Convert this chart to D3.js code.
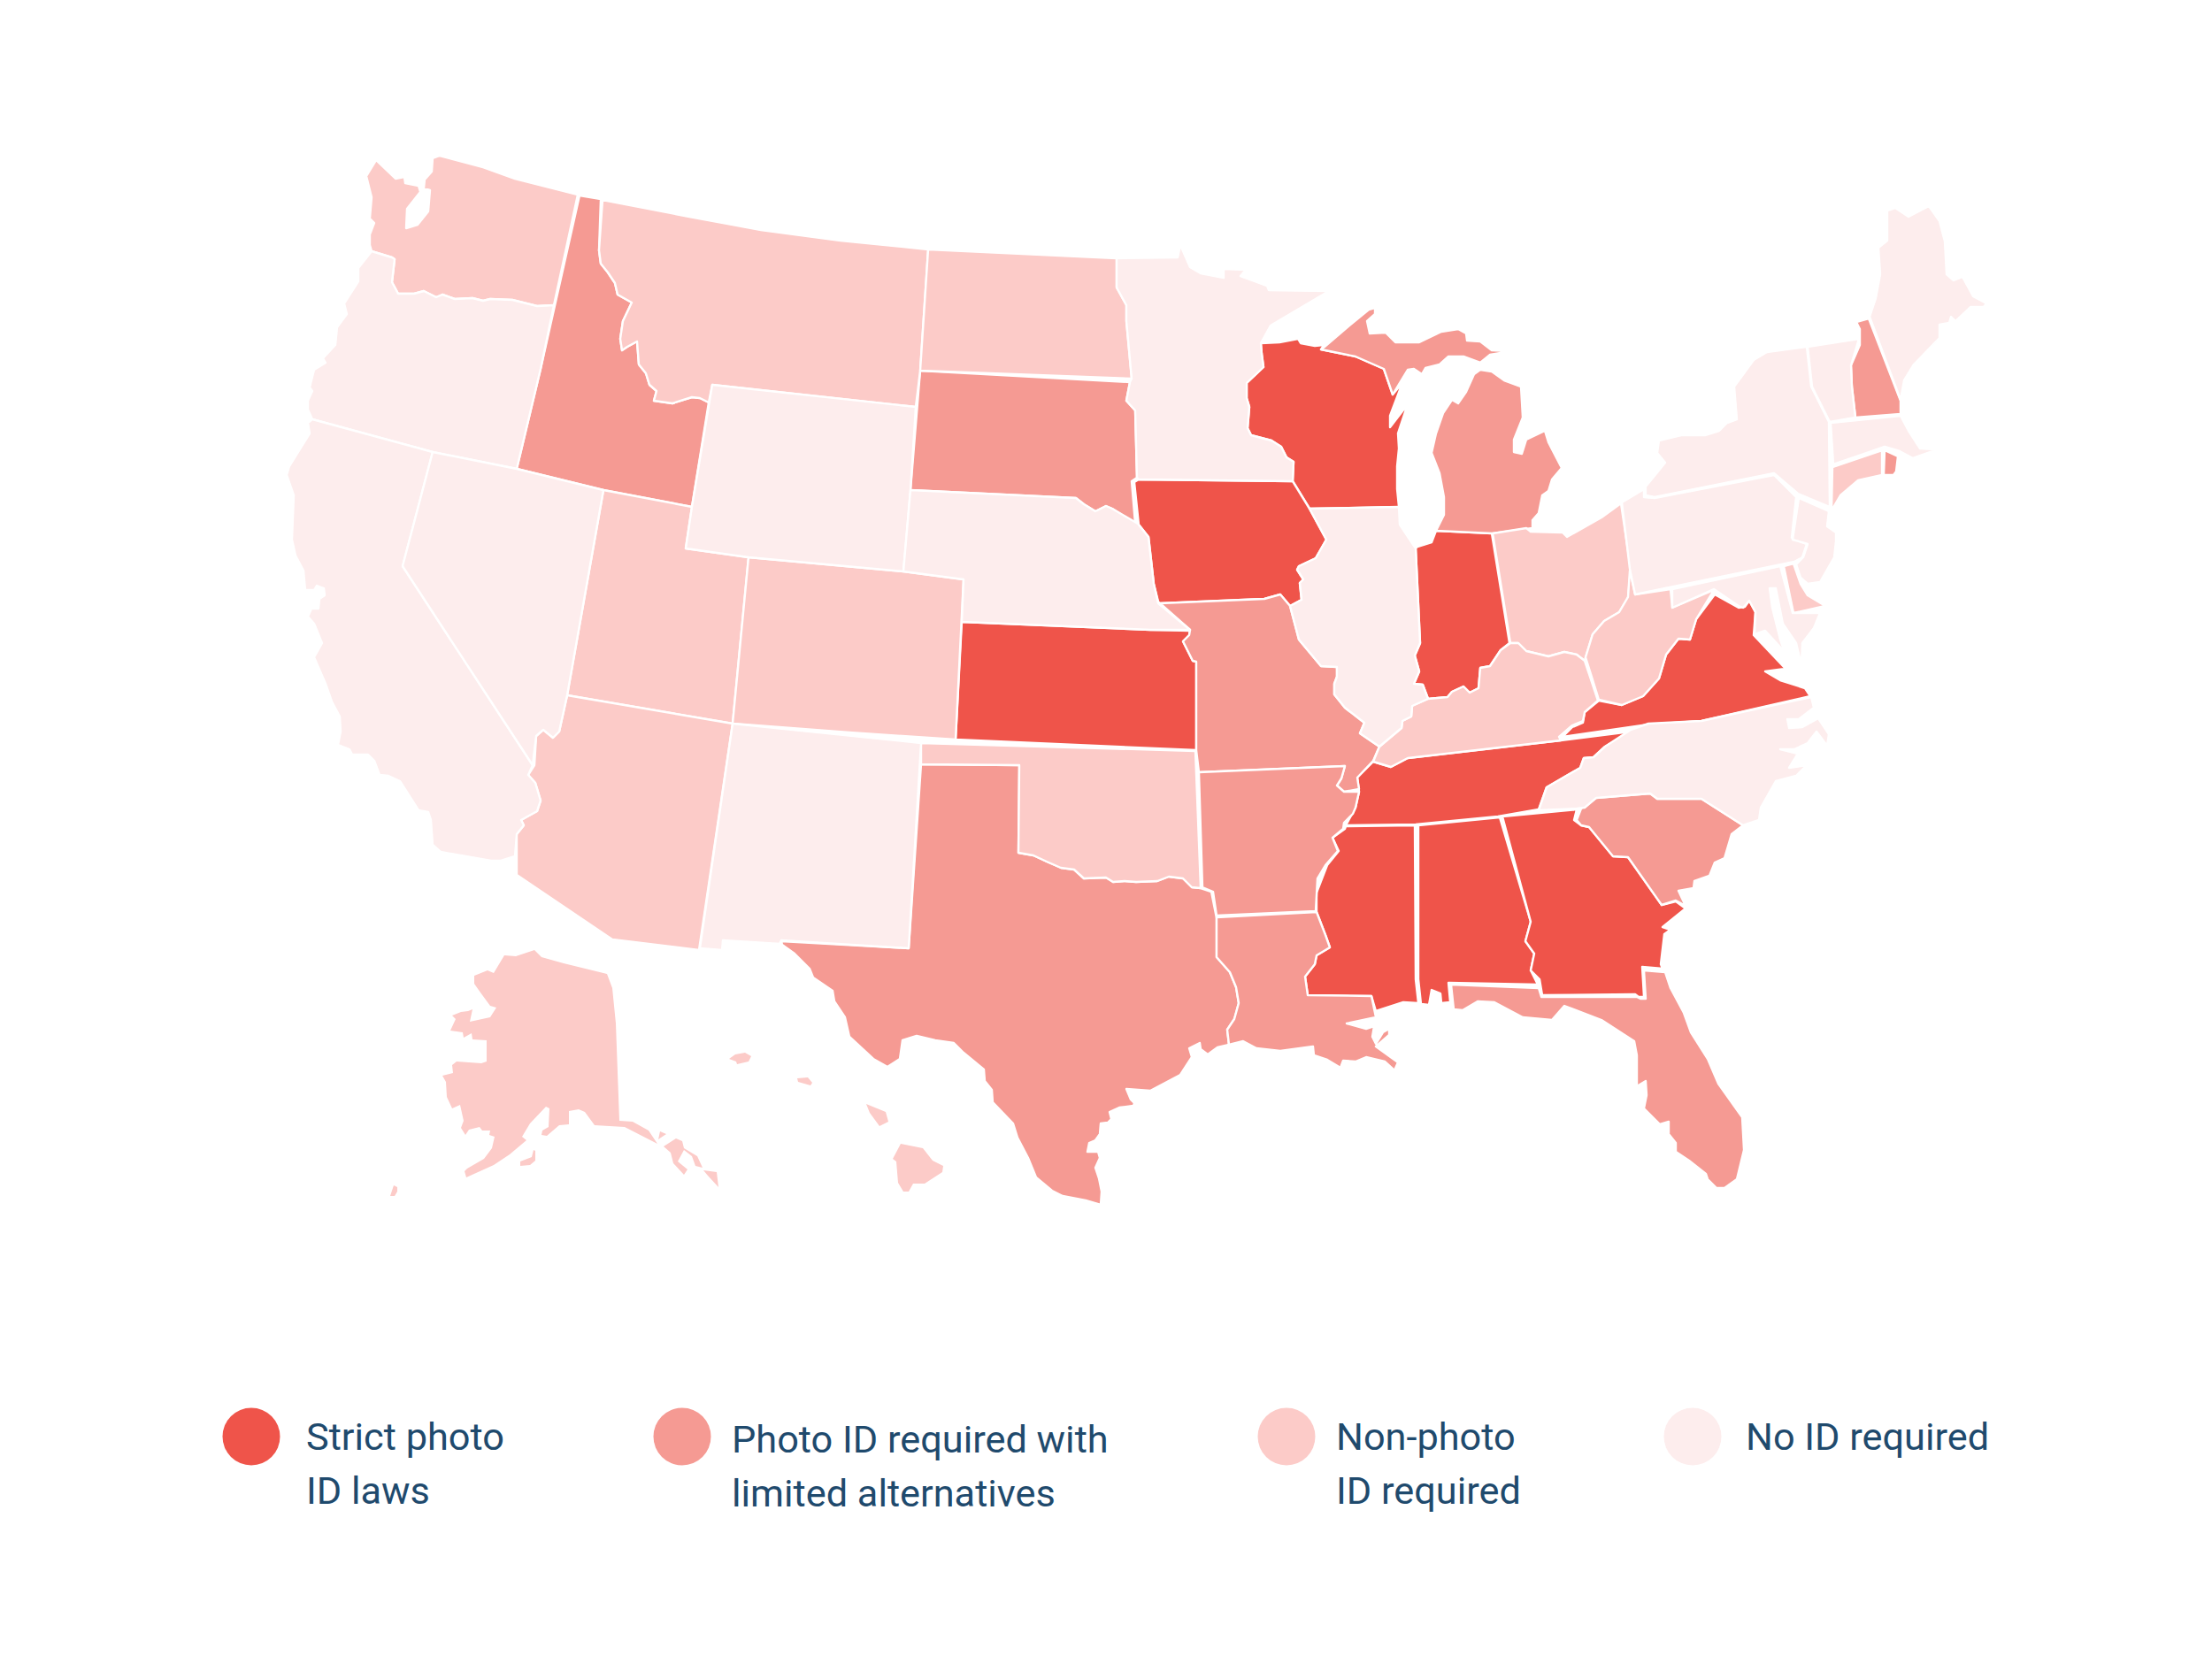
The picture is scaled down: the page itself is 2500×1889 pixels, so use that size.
<!DOCTYPE html>
<html>
<head>
<meta charset="utf-8">
<title>Voter ID laws by state</title>
<script src="https://cdn.jsdelivr.net/npm/d3@7"></script>
<style>
  html, body { margin: 0; padding: 0; background: #fff; }
  svg { display: block; }
  .state { stroke: #fff; stroke-width: 2.4; stroke-linejoin: round; }
  .island { stroke: none; }
  .legend-label { font-family: Roboto, sans-serif; font-size: 43.3px; fill: #1f4a6d; }
</style>
</head>
<body>
<svg id="map" width="2500" height="1889"></svg>
<script>
// outlines, in map units (one unit = one pixel of the source map)
const WA = [[425,181],[447,202],[457,200],[458,207],[473,210],[475,217],[460,236],[459,258],[472,254],[484,239],[486,215],[479,213],[480,203],[488,194],[489,179],[497,176],[546,189],[582,202],[653,220],[626,345],[607,346],[579,339],[554,338],[546,340],[534,337],[514,338],[500,333],[493,336],[479,329],[468,332],[450,332],[443,319],[446,293],[443,291],[420,284],[418,277],[418,265],[423,252],[418,247],[420,223],[414,199]];
const OR = [[420,284],[443,291],[446,293],[443,319],[450,332],[468,332],[479,329],[493,336],[500,333],[514,338],[534,337],[546,340],[554,338],[579,339],[607,346],[626,345],[611,417],[584,530],[489,511],[353,474],[348,463],[348,453],[353,442],[350,438],[355,418],[368,410],[365,405],[379,390],[381,370],[392,355],[389,343],[405,318],[405,303]];
const ID = [[655,221],[679,225],[677,283],[679,298],[687,308],[695,320],[698,333],[714,342],[704,363],[701,383],[703,396],[709,392],[720,386],[722,412],[730,422],[734,435],[742,442],[739,453],[760,456],[782,449],[791,450],[801,455],[782,573],[682,554],[584,530],[611,417]];
const MT = [[681,226],[779,245],[860,260],[950,272],[1049,282],[1040,419],[1035,460],[805,435],[801,455],[791,450],[782,449],[760,456],[739,453],[742,442],[734,435],[730,422],[722,412],[720,386],[709,392],[703,396],[701,383],[704,363],[714,342],[698,333],[695,320],[687,308],[679,298],[677,283]];
const ND = [[1049,282],[1262,292],[1262,325],[1273,345],[1273,363],[1279,428],[1040,419]];
const SD = [[1040,419],[1277,432],[1273,453],[1283,464],[1285,540],[1279,544],[1283,592],[1257,575],[1250,572],[1238,578],[1225,570],[1216,563],[1029,554]];
const WY = [[805,435],[1035,460],[1029,554],[1021,646],[846,630],[775,620],[782,573]];
const NE = [[1029,554],[1216,563],[1225,570],[1238,578],[1250,572],[1257,575],[1286,592],[1298,607],[1304,660],[1309,682],[1345,712],[1300,712],[1087,703],[1089,655],[1021,646]];
const UT = [[682,554],[782,573],[775,620],[846,630],[828,818],[641,786]];
const CO = [[846,630],[1021,646],[1089,655],[1080,836],[960,828],[828,818]];
const NV = [[489,511],[584,530],[682,554],[641,786],[632,827],[625,834],[614,825],[606,832],[602,865],[455,640]];
const CA = [[353,474],[489,511],[455,640],[602,865],[597,876],[605,885],[611,905],[607,917],[589,927],[592,933],[584,943],[582,968],[566,973],[555,973],[498,963],[489,955],[487,927],[484,918],[473,916],[452,883],[439,877],[429,876],[423,860],[416,853],[398,853],[395,847],[382,842],[385,827],[384,810],[375,793],[368,773],[355,743],[364,727],[355,705],[348,697],[352,688],[360,688],[361,677],[367,673],[366,665],[358,662],[355,667],[345,667],[343,645],[334,628],[330,610],[332,560],[324,537],[327,527],[350,490],[348,478]];
const AZ = [[641,786],[828,818],[790,1074],[692,1062],[584,989],[584,943],[592,933],[589,927],[607,917],[611,905],[605,885],[597,876],[604,865],[606,832],[614,825],[625,834],[632,827]];
const NM = [[828,818],[1041,840],[1027,1072],[883,1063],[881,1067],[817,1063],[816,1074],[791,1072]];
const KS = [[1087,703],[1300,712],[1345,713],[1344,718],[1337,725],[1348,747],[1352,748],[1352,848],[1080,836]];
const OK = [[1041,840],[1351,849],[1357,1004],[1347,1003],[1337,993],[1321,991],[1308,996],[1284,997],[1271,996],[1258,997],[1250,992],[1225,993],[1214,983],[1199,981],[1183,974],[1168,967],[1151,964],[1152,865],[1041,864]];
const TX = [[1041,864],[1152,865],[1151,964],[1168,967],[1183,974],[1199,981],[1214,983],[1225,993],[1250,992],[1258,997],[1271,996],[1284,997],[1308,996],[1321,991],[1337,993],[1347,1003],[1357,1004],[1369,1008],[1375,1038],[1375,1082],[1390,1099],[1397,1116],[1400,1134],[1395,1152],[1387,1164],[1389,1181],[1376,1184],[1365,1192],[1357,1186],[1356,1179],[1344,1185],[1347,1195],[1334,1215],[1300,1233],[1273,1231],[1278,1243],[1282,1247],[1281,1250],[1265,1252],[1254,1257],[1256,1265],[1252,1269],[1244,1270],[1243,1282],[1238,1289],[1231,1292],[1229,1302],[1241,1302],[1243,1309],[1238,1320],[1242,1332],[1245,1347],[1244,1362],[1227,1357],[1201,1352],[1189,1346],[1171,1331],[1162,1309],[1150,1286],[1145,1270],[1122,1246],[1121,1232],[1113,1222],[1112,1209],[1089,1190],[1078,1179],[1057,1176],[1036,1171],[1020,1176],[1017,1197],[1003,1206],[987,1197],[960,1172],[955,1150],[943,1132],[941,1120],[919,1105],[915,1095],[898,1078],[884,1068],[883,1064],[1027,1072]];
const MN = [[1262,292],[1331,291],[1334,277],[1345,302],[1357,309],[1383,314],[1383,304],[1408,305],[1402,312],[1432,323],[1434,328],[1502,329],[1436,368],[1425,388],[1426,400],[1428,415],[1409,433],[1409,450],[1412,460],[1410,484],[1414,492],[1437,498],[1448,505],[1454,517],[1462,522],[1461,544],[1287,542],[1285,540],[1283,464],[1273,453],[1277,432],[1279,428],[1273,363],[1273,345],[1262,325]];
const IA = [[1282,545],[1287,542],[1461,544],[1480,575],[1499,610],[1487,631],[1468,640],[1466,644],[1473,655],[1469,659],[1471,678],[1458,685],[1447,672],[1429,677],[1311,682],[1309,680],[1304,660],[1298,607],[1287,593]];
const WI = [[1425,388],[1446,387],[1467,383],[1470,388],[1486,391],[1496,390],[1493,395],[1532,403],[1564,417],[1574,446],[1585,433],[1571,470],[1571,483],[1591,457],[1580,490],[1581,507],[1579,527],[1579,553],[1581,573],[1480,575],[1461,544],[1462,522],[1454,517],[1448,505],[1437,498],[1414,492],[1410,484],[1412,460],[1409,450],[1409,433],[1428,415],[1426,400]];
const IL = [[1480,575],[1581,573],[1582,593],[1600,620],[1605,727],[1599,741],[1604,759],[1598,773],[1608,774],[1614,790],[1596,798],[1595,810],[1585,815],[1584,823],[1559,844],[1537,829],[1542,817],[1520,800],[1508,785],[1508,773],[1511,765],[1511,754],[1493,753],[1468,723],[1458,685],[1471,678],[1469,659],[1473,655],[1466,644],[1468,640],[1487,631],[1499,610]];
const MO = [[1311,682],[1429,677],[1447,672],[1458,685],[1468,723],[1493,753],[1511,754],[1511,765],[1508,773],[1508,785],[1520,800],[1542,817],[1537,829],[1559,844],[1552,860],[1534,879],[1536,892],[1519,895],[1511,888],[1516,880],[1520,866],[1355,873],[1352,848],[1352,748],[1348,747],[1337,725],[1344,718],[1345,712]];
const AR = [[1355,873],[1520,866],[1516,880],[1511,888],[1519,895],[1536,895],[1532,913],[1529,920],[1519,930],[1518,937],[1506,947],[1512,962],[1498,978],[1489,993],[1487,1030],[1375,1035],[1371,1008],[1359,1003]];
const LA = [[1375,1037],[1488,1031],[1498,1057],[1503,1071],[1488,1080],[1486,1090],[1475,1104],[1478,1125],[1550,1126],[1555,1150],[1522,1157],[1544,1163],[1553,1160],[1551,1172],[1555,1180],[1563,1167],[1570,1163],[1570,1170],[1555,1183],[1580,1201],[1576,1210],[1565,1200],[1544,1195],[1532,1200],[1518,1199],[1515,1207],[1500,1198],[1485,1193],[1484,1183],[1447,1188],[1420,1185],[1405,1177],[1389,1181],[1387,1164],[1395,1152],[1400,1134],[1397,1116],[1390,1099],[1375,1082]];
const MS = [[1521,934],[1599,933],[1600,1107],[1603,1134],[1586,1133],[1555,1143],[1550,1126],[1478,1125],[1475,1104],[1486,1090],[1488,1080],[1503,1071],[1498,1057],[1488,1031],[1488,1009],[1500,978],[1513,962],[1506,947],[1520,937]];
const AL = [[1603,933],[1695,924],[1730,1042],[1724,1064],[1734,1078],[1730,1097],[1738,1113],[1637,1111],[1639,1133],[1629,1134],[1628,1123],[1618,1119],[1615,1136],[1606,1135],[1603,1107]];
const GA = [[1698,923],[1782,915],[1779,927],[1787,933],[1796,935],[1823,968],[1840,969],[1878,1023],[1894,1019],[1905,1027],[1879,1048],[1888,1051],[1881,1056],[1877,1090],[1879,1095],[1856,1093],[1858,1127],[1852,1127],[1848,1124],[1743,1125],[1740,1107],[1730,1097],[1734,1078],[1724,1064],[1730,1042]];
const FL = [[1640,1113],[1739,1117],[1742,1127],[1850,1127],[1854,1129],[1860,1129],[1858,1097],[1882,1099],[1888,1117],[1903,1145],[1911,1167],[1930,1197],[1942,1225],[1969,1263],[1971,1300],[1963,1333],[1949,1343],[1940,1343],[1930,1333],[1928,1327],[1909,1312],[1894,1302],[1894,1292],[1886,1282],[1886,1268],[1876,1271],[1858,1253],[1861,1238],[1860,1222],[1850,1228],[1850,1193],[1847,1177],[1810,1153],[1768,1137],[1754,1153],[1721,1150],[1689,1133],[1670,1132],[1653,1142],[1643,1141]];
const SC = [[1782,927],[1787,914],[1804,902],[1865,897],[1873,903],[1923,903],[1970,933],[1957,943],[1949,970],[1938,975],[1932,990],[1915,996],[1914,1004],[1897,1007],[1905,1024],[1894,1018],[1878,1023],[1840,969],[1823,968],[1796,935],[1787,933]];
const NC = [[1739,916],[1748,890],[1786,868],[1790,857],[1801,856],[1814,844],[1843,825],[1863,818],[1923,815],[2047,788],[2050,800],[2033,813],[2020,813],[2022,823],[2037,822],[2055,812],[2067,830],[2065,843],[2053,827],[2043,840],[2028,847],[2012,847],[2032,852],[2022,868],[2042,865],[2030,877],[2007,883],[1990,913],[1988,927],[1970,933],[1923,903],[1873,903],[1865,897],[1804,902],[1791,913],[1782,914]];
const TN = [[1552,861],[1572,867],[1591,857],[1764,837],[1843,827],[1814,844],[1801,856],[1790,857],[1786,868],[1748,890],[1739,915],[1693,923],[1600,932],[1521,933],[1532,913],[1536,895],[1534,879]];
const KY = [[1559,844],[1584,823],[1585,815],[1595,810],[1596,798],[1614,790],[1636,788],[1641,782],[1654,776],[1661,783],[1671,778],[1673,755],[1684,753],[1696,735],[1707,727],[1716,727],[1725,736],[1750,742],[1768,737],[1782,740],[1791,747],[1806,792],[1791,805],[1789,815],[1777,820],[1762,833],[1764,837],[1591,857],[1572,867],[1552,861]];
const IN = [[1623,600],[1686,603],[1706,727],[1696,735],[1684,753],[1673,755],[1671,778],[1661,783],[1654,776],[1641,782],[1636,788],[1614,790],[1608,774],[1598,773],[1604,759],[1599,741],[1605,727],[1600,620],[1602,618],[1618,613]];
const OH = [[1687,603],[1725,597],[1730,601],[1766,602],[1771,607],[1810,585],[1832,569],[1843,643],[1840,675],[1830,692],[1813,702],[1800,717],[1792,743],[1791,747],[1782,740],[1768,737],[1750,742],[1725,736],[1716,727],[1707,727]];
const WV = [[1842,645],[1848,672],[1888,666],[1890,687],[1937,667],[1917,700],[1910,723],[1897,722],[1883,740],[1875,767],[1857,787],[1833,797],[1807,791],[1792,743],[1800,717],[1813,702],[1830,692],[1840,675]];
const VA = [[1938,672],[1965,687],[1972,686],[1977,679],[1984,692],[1982,718],[2018,756],[2010,757],[1995,759],[2012,769],[2040,778],[2046,787],[1923,815],[1863,819],[1780,831],[1766,833],[1777,822],[1789,817],[1791,805],[1807,792],[1833,797],[1857,787],[1875,767],[1883,740],[1897,722],[1910,723],[1917,700]];
const PA = [[1833,568],[1858,553],[1858,562],[1870,563],[2005,537],[2030,562],[2025,608],[2042,615],[2037,630],[2028,635],[1848,672],[1842,643]];
const NY = [[1860,560],[1860,550],[1882,523],[1873,512],[1875,498],[1900,492],[1927,492],[1943,487],[1952,478],[1963,474],[1960,437],[1982,407],[1997,398],[2042,392],[2047,437],[2067,477],[2068,573],[2032,558],[2005,535],[1870,562]];
const VT = [[2043,392],[2101,383],[2092,413],[2093,437],[2097,472],[2068,477],[2048,437]];
const NH = [[2098,364],[2112,360],[2148,453],[2148,468],[2097,472],[2093,437],[2092,413],[2102,390],[2102,372]];
const ME = [[2113,358],[2120,337],[2125,310],[2123,280],[2133,272],[2133,238],[2142,235],[2157,245],[2180,233],[2192,250],[2198,273],[2200,310],[2208,317],[2218,313],[2230,335],[2245,343],[2242,347],[2227,347],[2210,363],[2205,358],[2203,365],[2192,367],[2192,382],[2163,412],[2152,430],[2148,452]];
const MA = [[2069,478],[2148,470],[2157,487],[2170,507],[2187,508],[2188,503],[2190,508],[2162,518],[2147,510],[2130,505],[2072,525]];
const CT = [[2071,528],[2127,509],[2127,537],[2100,543],[2080,560],[2070,577]];
const RI = [[2130,509],[2145,516],[2143,533],[2140,537],[2129,537]];
const NJ = [[2033,563],[2067,578],[2065,595],[2075,602],[2075,612],[2073,630],[2057,658],[2043,660],[2035,653],[2030,638],[2038,630],[2043,615],[2026,610]];
const DE = [[2016,640],[2027,637],[2035,660],[2043,673],[2063,685],[2027,693]];
const MD = [[1890,666],[2012,640],[2026,693],[2057,693],[2050,710],[2037,727],[2036,752],[2030,727],[2015,705],[2007,665],[2000,665],[2003,687],[2012,723],[2017,737],[1995,713],[1983,717],[1984,692],[1977,679],[1970,687],[1965,685],[1937,666],[1890,687]];
const MI_UP = [[1497,392],[1525,368],[1547,350],[1554,348],[1554,355],[1545,363],[1548,377],[1566,376],[1577,387],[1604,387],[1629,375],[1648,372],[1657,377],[1658,385],[1673,386],[1686,396],[1708,397],[1684,401],[1673,410],[1654,403],[1637,403],[1627,412],[1611,416],[1607,423],[1598,417],[1591,418],[1574,446],[1564,417],[1532,403],[1493,395]];
const MI_LP = [[1673,418],[1686,420],[1700,430],[1719,437],[1721,472],[1711,497],[1711,511],[1720,513],[1725,497],[1746,487],[1750,500],[1765,529],[1754,542],[1750,555],[1743,560],[1739,580],[1732,588],[1732,597],[1687,603],[1623,600],[1632,582],[1632,562],[1627,535],[1618,512],[1623,490],[1631,467],[1641,452],[1648,456],[1657,443],[1666,423]];
const AK = [[570,1080],[583,1081],[604,1074],[612,1082],[637,1089],[686,1101],[692,1117],[696,1157],[700,1267],[715,1268],[733,1278],[743,1293],[706,1274],[672,1272],[661,1257],[654,1254],[643,1256],[643,1271],[632,1272],[618,1284],[612,1283],[613,1278],[620,1274],[621,1253],[617,1251],[599,1270],[590,1285],[595,1289],[576,1305],[558,1317],[527,1331],[525,1324],[528,1321],[547,1310],[556,1298],[559,1285],[553,1283],[554,1278],[545,1278],[542,1274],[530,1277],[526,1283],[521,1275],[524,1267],[520,1249],[511,1253],[505,1240],[504,1223],[500,1216],[512,1213],[511,1204],[516,1200],[544,1202],[550,1200],[550,1176],[534,1175],[533,1168],[524,1173],[523,1167],[509,1165],[515,1152],[511,1148],[521,1144],[529,1143],[534,1141],[531,1155],[554,1150],[561,1139],[554,1137],[543,1122],[536,1112],[536,1103],[551,1097],[558,1100]];
const AK_KODIAK = [[588,1313],[601,1308],[603,1300],[605,1301],[605,1312],[599,1317],[588,1318]];
const AK_PANHANDLE = [[750,1296],[764,1287],[771,1290],[773,1298],[788,1307],[794,1320],[786,1318],[782,1307],[773,1300],[766,1313],[777,1322],[773,1328],[761,1315],[758,1303]];
const AK_ISLET_A = [[746,1279],[753,1282],[744,1288]];
const AK_ISLET_B = [[795,1323],[810,1325],[812,1342],[800,1329]];
const AK_ISLET_C = [[445,1340],[449,1342],[449,1347],[446,1352],[441,1352]];
const HI_KAUAI = [[824,1197],[831,1192],[842,1190],[849,1194],[846,1200],[833,1203],[832,1200]];
const HI_OAHU = [[901,1219],[913,1218],[918,1224],[916,1227],[902,1223]];
const HI_MAUI = [[979,1248],[1001,1257],[1004,1268],[994,1273],[983,1258]];
const HI_BIG = [[1018,1293],[1043,1298],[1054,1312],[1066,1318],[1065,1325],[1045,1338],[1032,1338],[1027,1347],[1021,1347],[1015,1337],[1013,1313],[1009,1310]];

// which outlines fall in which category
const strictStates = [WI, IA, KS, IN, TN, MS, AL, GA, VA];
const photoStates = [ID, SD, MO, AR, TX, LA, FL, SC, NH, RI, MI_UP, MI_LP];
const nonPhotoStates = [WA, MT, ND, UT, CO, AZ, OK, OH, KY, WV, CT, DE];
const noIdStates = [OR, CA, NV, WY, NE, NM, MN, IL, PA, NY, VT, ME, MA, NJ, MD, NC];
// alaska and hawaii touch nothing, so they get no border line
const nonPhotoIslands = [AK, AK_KODIAK, AK_PANHANDLE, AK_ISLET_A, AK_ISLET_B, AK_ISLET_C, HI_KAUAI, HI_OAHU, HI_MAUI, HI_BIG];

// legend
const legendColors = ["#ef544a", "#f59a93", "#fccbc8", "#fdeded"];
const legendLabels = [["Strict photo", "ID laws"], ["Photo ID required with", "limited alternatives"], ["Non-photo", "ID required"], ["No ID required"]];
const legendCircleX = [284, 771, 1454, 1913];
const legendTextX = [346, 827, 1510, 1973];
const legendBaseline = [1639, 1642, 1639, 1639];

var svg = d3.select("#map");
var geoPath = d3.geoPath(d3.geoIdentity());

function toFeature(ring) {
  return {type: "Feature", geometry: {type: "Polygon", coordinates: [ring.concat([ring[0]])]}};
}

function drawGroup(group, color, cls) {
  svg.append("g")
    .selectAll("path")
    .data(group.map(toFeature))
    .enter()
    .append("path")
    .attr("class", cls)
    .attr("fill", color)
    .attr("d", geoPath);
}

[strictStates, photoStates, nonPhotoStates, noIdStates].forEach(function (group, i) {
  drawGroup(group, legendColors[i], "state");
});
drawGroup(nonPhotoIslands, legendColors[2], "island");

// legend row
var legend = svg.append("g");
legendLabels.forEach(function (lines, i) {
  legend.append("circle")
    .attr("cx", legendCircleX[i])
    .attr("cy", 1624)
    .attr("r", 32.5)
    .attr("fill", legendColors[i]);
  lines.forEach(function (line, j) {
    legend.append("text")
      .attr("class", "legend-label")
      .attr("x", legendTextX[i])
      .attr("y", legendBaseline[i] + j * 61)
      .text(line);
  });
});
</script>
</body>
</html>
